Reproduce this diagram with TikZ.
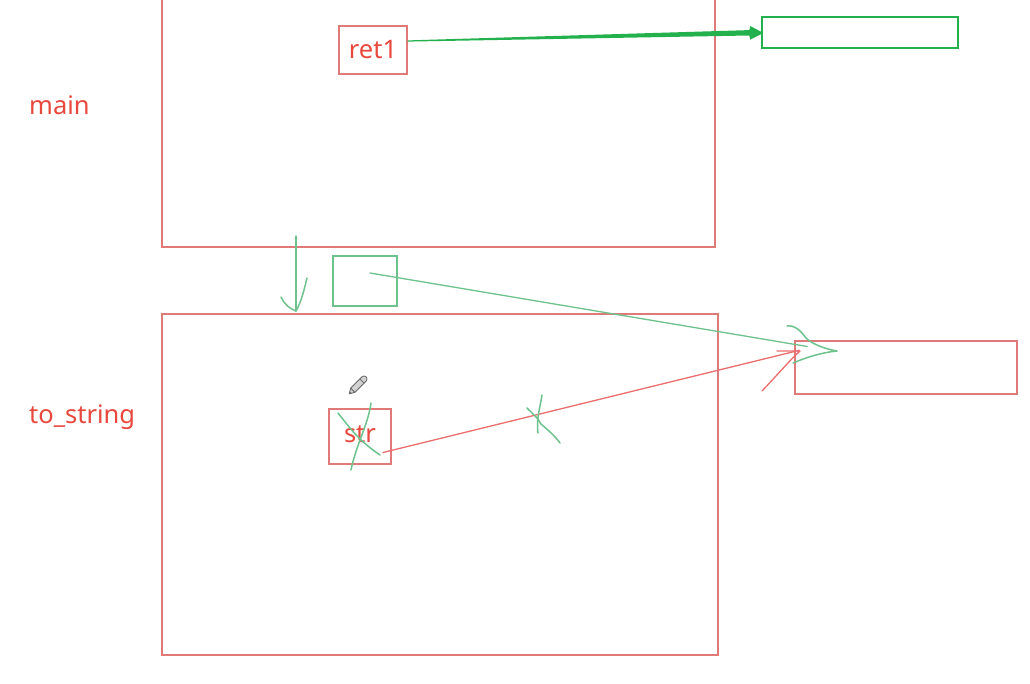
\documentclass[tikz,border=0pt]{standalone}
\usepackage{fontspec}
\setmainfont{Noto Sans}
\usetikzlibrary{calc,arrows.meta}
\definecolor{frame}{HTML}{E07A78}
\definecolor{txt}{HTML}{E8493F}
\definecolor{gbright}{HTML}{22B14C}
\definecolor{gsoft}{HTML}{6DC28D}
\definecolor{rline}{HTML}{EA6E6E}
\begin{document}
\begin{tikzpicture}[x=1pt,y=-1pt,
  frm/.style={draw=frame, line width=1.4pt},
  lab/.style={text=txt, font=\fontsize{25.5}{30}\selectfont, inner sep=0pt},
  vbox/.style={draw=frame, line width=1.4pt, inner sep=0pt, text=txt, font=\fontsize{25.5}{30}\selectfont},
  gbox/.style={draw=#1, line width=1.4pt, inner sep=0pt},
  hand/.style={draw=gsoft, line width=1.5pt, line cap=round, line join=round},
  rhand/.style={draw=rline, line width=1.3pt, line cap=round, line join=round}]
\useasboundingbox (0,0) rectangle (1030,683);
\fill[white] (0,0) rectangle (1030,683);
% frames
\draw[frm] (162,0) -- (162,247) -- (715,247) -- (715,0);
\node[frm, inner sep=0pt, minimum width=556pt, minimum height=341pt] (tsframe) at (440,484.5) {};
% labels
\node[lab, anchor=west] (mainlab) at (29,105) {main};
\node[lab, anchor=west] (tslab) at (29,417) {to\_string};
% boxes
\node[vbox, minimum width=68pt, minimum height=48pt] (ret1) at (373,50) {ret1};
\node[gbox=gbright, minimum width=196pt, minimum height=31pt] (tbox) at (860,32.5) {};
\node[gbox=gsoft, minimum width=64pt, minimum height=50pt] (mbox) at (365,281) {};
\node[vbox, minimum width=62pt, minimum height=55pt] (str) at (360,436.5) {\raisebox{4pt}{str}};
\node[frm, inner sep=0pt, minimum width=222pt, minimum height=53pt] (rbox) at (906,367.5) {};
% top green arrow (tapered)
\fill[gbright] ($(ret1.east)+(0,-9.6)$) -- ($(tbox.west)+(-12,-2.4)$) -- ($(tbox.west)+(-11,-6.5)$)
  -- ($(tbox.west)+(2,0.5)$) -- ($(tbox.west)+(-11,7)$) -- ($(tbox.west)+(-12,3)$)
  -- ($(ret1.east)+(0,-8.4)$) -- cycle;
% green connector from mbox to rbox
\draw[hand, line width=1.3pt] ($(mbox.center)+(5,-8)$) -- ($(rbox.west)+(13,-21)$);
% hand-drawn green arrowhead
\draw[hand] (787,326) .. controls (795,325) and (800,330) .. (806,338) .. controls (812,344) and (825,349) .. (837,351)
  .. controls (826,352) and (815,355) .. (806,358) .. controls (800,360) and (796,362) .. (793,363);
% red connector from str to rbox
\draw[rhand] ($(str.center)+(23,16)$) -- ($(rbox.north west)+(5,10)$);
\draw[rhand] (777,351) -- (800,351) .. controls (790,360) and (780,372) .. (762,391);
% green down arrow
\draw[hand] (296,236) -- (296,311);
\draw[hand] (281,297) .. controls (284,304) and (290,309) .. (296,311) .. controls (302,300) and (304,290) .. (307,278);
% green cross on str
\draw[hand] (338,413) .. controls (350,428) and (358,440) .. (380,455);
\draw[hand] (371,403) .. controls (368,425) and (356,445) .. (351,470);
% green cross on red line
\draw[hand] (542,395) .. controls (540,408) and (536,420) .. (538,433);
\draw[hand] (527,408) .. controls (533,414) and (538,418) .. (541,424) .. controls (548,430) and (555,436) .. (560,443);
% pencil icon
\begin{scope}[shift={(357,386)}, rotate=45]
  \filldraw[draw=gray!80!black, fill=gray!35, line width=0.8pt, line join=round]
    (-11,0) -- (-6,-3) -- (8,-3) -- (10,-3) arc[start angle=-90, end angle=90, radius=3] -- (8,3) -- (-6,3) -- cycle;
  \draw[gray!80!black, line width=0.8pt] (-6,-3) -- (-6,3) (7,-3) -- (7,3);
  \fill[gray!80!black] (-11,0) -- (-9,-1.2) -- (-9,1.2) -- cycle;
\end{scope}
\end{tikzpicture}
\end{document}
